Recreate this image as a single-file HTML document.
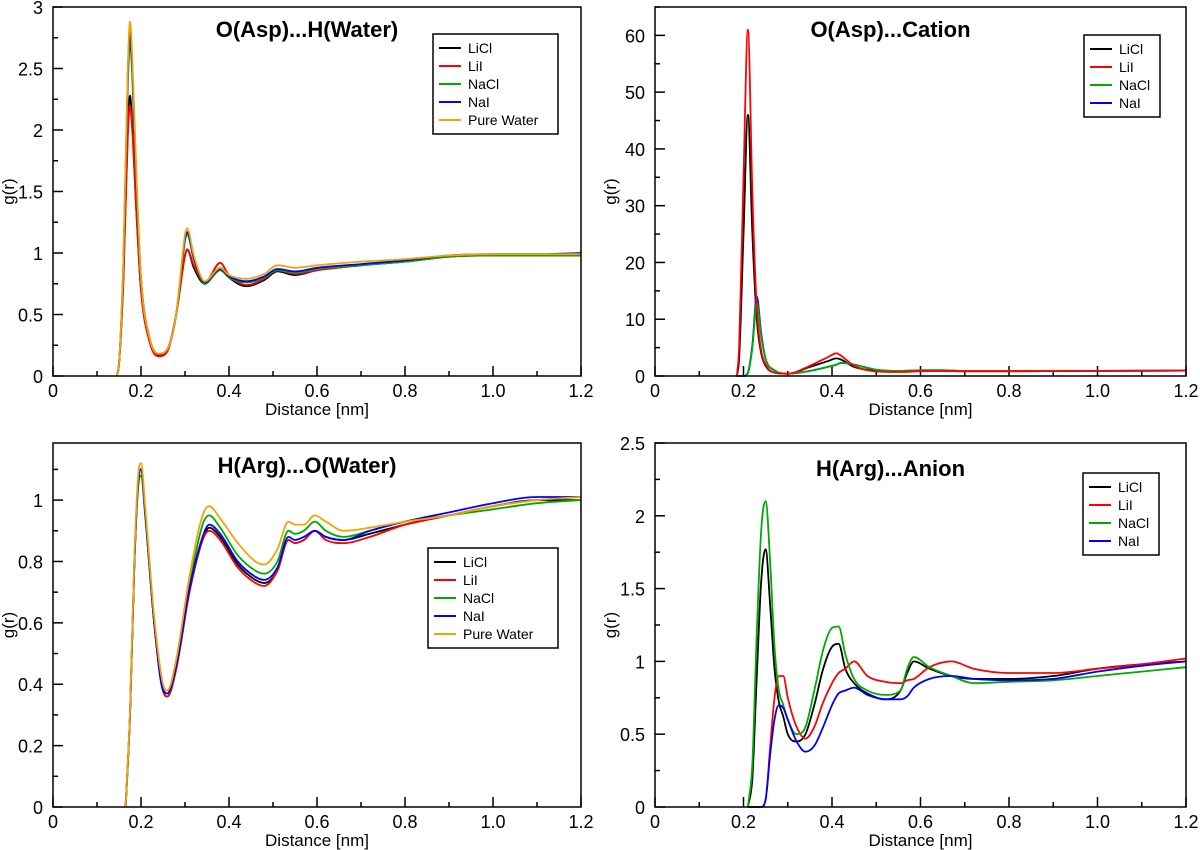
<!DOCTYPE html>
<html><head><meta charset="utf-8"><style>
body{margin:0;background:#fff;}
svg{display:block;font-family:"Liberation Sans",sans-serif;}
</style></head><body>
<svg id="fig" width="1200" height="850" viewBox="0 0 1200 850"></svg>
<script>
// ---------- Panel A: O(Asp)...H(Water)
const xA = [0.145,0.15,0.16,0.17,0.175,0.18,0.19,0.20,0.22,0.24,0.26,0.28,0.30,0.305,0.32,0.345,0.38,0.40,0.44,0.48,0.51,0.55,0.6,0.7,0.8,0.9,1.0,1.1,1.2];
const yA_LiCl = [0,0.1,0.8,2.0,2.28,2.05,1.3,0.7,0.28,0.17,0.21,0.5,0.98,1.03,0.88,0.75,0.88,0.8,0.73,0.78,0.85,0.82,0.86,0.9,0.93,0.97,0.98,0.98,0.98];
const yA_LiI = [0,0.1,0.78,1.95,2.2,2.0,1.3,0.7,0.27,0.16,0.2,0.5,0.98,1.03,0.9,0.76,0.92,0.82,0.74,0.79,0.86,0.83,0.86,0.9,0.93,0.97,0.98,0.98,0.98];
const yA_NaCl = [0,0.1,0.9,2.35,2.72,2.45,1.5,0.78,0.3,0.18,0.22,0.5,1.1,1.15,0.95,0.75,0.86,0.8,0.76,0.8,0.86,0.84,0.87,0.9,0.93,0.97,0.98,0.98,0.98];
const yA_NaI = [0,0.1,0.92,2.45,2.8,2.52,1.55,0.8,0.3,0.18,0.22,0.5,1.12,1.17,0.96,0.76,0.87,0.81,0.77,0.81,0.87,0.85,0.88,0.91,0.94,0.98,0.99,0.99,1.0];
const yA_Pure = [0,0.1,0.95,2.5,2.88,2.6,1.6,0.8,0.3,0.18,0.22,0.5,1.15,1.2,0.98,0.77,0.88,0.82,0.79,0.83,0.9,0.88,0.9,0.93,0.95,0.98,0.99,0.99,0.99];

// ---------- Panel B: O(Asp)...Cation
const xB = [0.185,0.19,0.20,0.21,0.22,0.23,0.24,0.25,0.27,0.30,0.35,0.39,0.41,0.42,0.45,0.5,0.55,0.6,0.65,0.7,0.8,1.0,1.2];
const yB_LiCl = [0,3,25,46,25,10,4,1.8,0.6,0.4,1.6,2.6,3.1,2.9,1.6,0.9,0.8,0.9,0.9,0.85,0.85,0.9,0.95];
const yB_LiI = [0,5,35,61,32,12,4.5,2,0.6,0.4,1.8,3.3,4.0,3.6,1.8,0.8,0.7,0.85,0.9,0.85,0.85,0.9,0.95];
const yB_NaCl = [0,0,0,0.5,5,13,7,3,1,0.4,0.9,1.6,2.0,2.3,2.0,1.1,0.9,1.0,1.0,0.9,0.9,0.9,0.95];
const yB_NaI = [0,0,0,0.6,5.5,14,7.5,3,1,0.4,0.9,1.6,2.0,2.3,2.0,1.1,0.9,1.0,1.0,0.9,0.9,0.9,0.95];

// ---------- Panel C: H(Arg)...O(Water)
const xC = [0.165,0.175,0.185,0.195,0.2,0.21,0.23,0.25,0.26,0.28,0.31,0.34,0.355,0.38,0.42,0.46,0.48,0.51,0.535,0.55,0.57,0.595,0.62,0.66,0.72,0.8,0.9,1.0,1.1,1.2];
const yC_LiCl = [0,0.3,0.8,1.08,1.1,0.95,0.6,0.38,0.36,0.45,0.7,0.87,0.91,0.88,0.79,0.74,0.73,0.77,0.87,0.86,0.87,0.9,0.88,0.87,0.89,0.92,0.95,0.98,1.0,1.0];
const yC_LiI = [0,0.3,0.8,1.08,1.1,0.95,0.6,0.38,0.36,0.45,0.7,0.87,0.9,0.87,0.78,0.73,0.72,0.77,0.87,0.86,0.87,0.9,0.87,0.86,0.88,0.92,0.95,0.98,1.0,1.01];
const yC_NaCl = [0,0.3,0.8,1.06,1.08,0.94,0.6,0.39,0.37,0.46,0.72,0.92,0.95,0.91,0.82,0.77,0.76,0.8,0.9,0.89,0.9,0.93,0.9,0.88,0.9,0.93,0.95,0.97,0.99,1.0];
const yC_NaI = [0,0.3,0.8,1.08,1.1,0.95,0.6,0.38,0.37,0.46,0.71,0.88,0.92,0.89,0.8,0.75,0.74,0.78,0.88,0.87,0.88,0.9,0.88,0.87,0.9,0.93,0.96,0.99,1.01,1.01];
const yC_Pure = [0,0.31,0.82,1.1,1.12,0.97,0.62,0.4,0.38,0.48,0.75,0.95,0.98,0.94,0.86,0.8,0.79,0.84,0.93,0.92,0.92,0.95,0.93,0.9,0.91,0.93,0.95,0.98,1.0,1.01];

// ---------- Panel D: H(Arg)...Anion
const xD = [0.21,0.22,0.23,0.24,0.25,0.26,0.27,0.28,0.29,0.30,0.32,0.34,0.36,0.38,0.40,0.415,0.43,0.45,0.48,0.52,0.555,0.57,0.585,0.62,0.67,0.72,0.8,0.9,1.0,1.1,1.2];
const yD_LiCl = [0,0.2,0.9,1.55,1.77,1.4,0.95,0.72,0.62,0.5,0.45,0.5,0.7,0.95,1.1,1.12,0.95,0.85,0.78,0.74,0.8,0.92,1.0,0.95,0.9,0.88,0.88,0.9,0.95,0.98,1.0];
const yD_LiI = [0,0,0,0,0.05,0.4,0.75,0.9,0.9,0.75,0.55,0.47,0.55,0.72,0.85,0.92,0.95,1.0,0.9,0.86,0.85,0.87,0.88,0.96,1.0,0.95,0.92,0.92,0.95,0.98,1.02];
const yD_NaCl = [0,0.3,1.2,1.9,2.1,1.7,1.1,0.8,0.7,0.6,0.5,0.55,0.8,1.08,1.23,1.24,1.05,0.88,0.8,0.77,0.8,0.95,1.03,0.96,0.9,0.85,0.86,0.87,0.9,0.93,0.96];
const yD_NaI = [0,0,0,0,0.05,0.35,0.6,0.7,0.68,0.6,0.45,0.38,0.42,0.55,0.7,0.78,0.8,0.82,0.77,0.74,0.74,0.76,0.82,0.88,0.9,0.88,0.87,0.88,0.93,0.97,1.0];

const NS="http://www.w3.org/2000/svg";
const svg=document.getElementById('fig');
function mk(tag,attrs,parent){const e=document.createElementNS(NS,tag);for(const k in attrs)e.setAttribute(k,attrs[k]);(parent||svg).appendChild(e);return e;}
// monotone cubic (Fritsch-Carlson) path
function smooth(p){const n=p.length,d=[],m=new Array(n);
 for(let i=0;i<n-1;i++)d.push((p[i+1][1]-p[i][1])/(p[i+1][0]-p[i][0]));
 m[0]=d[0];m[n-1]=d[n-2];
 for(let i=1;i<n-1;i++){m[i]=(d[i-1]*d[i]<=0)?0:(d[i-1]+d[i])/2;}
 for(let i=0;i<n-1;i++){if(d[i]===0){m[i]=0;m[i+1]=0;continue;}
  const a=m[i]/d[i],b=m[i+1]/d[i],s=a*a+b*b;if(s>9){const t=3/Math.sqrt(s);m[i]=t*a*d[i];m[i+1]=t*b*d[i];}}
 let s='M'+p[0][0].toFixed(1)+','+p[0][1].toFixed(1);
 for(let i=0;i<n-1;i++){const h=(p[i+1][0]-p[i][0])/3;
  s+='C'+(p[i][0]+h).toFixed(1)+','+(p[i][1]+m[i]*h).toFixed(1)+' '+(p[i+1][0]-h).toFixed(1)+','+(p[i+1][1]-m[i+1]*h).toFixed(1)+' '+p[i+1][0].toFixed(1)+','+p[i+1][1].toFixed(1);}
 return s;}

function panel(cfg){
 const g=mk('g',{});
 
 
 const L=cfg.L,R=cfg.R,T=cfg.T,B=cfg.B;
 const sx=v=>L+(v-0)/1.2*(R-L), sy=v=>B-v/cfg.ymax*(B-T);
 for(let i=0;i<=12;i++){const v=i*0.1,x=sx(v),len=i%2==0?10:5;
  mk('line',{x1:x,y1:B,x2:x,y2:B-len,stroke:'#000','stroke-width':1.5},g);
  if(i%2==0){const t=mk('text',{x:x,y:B+21,'font-size':18,'text-anchor':'middle'},g);t.textContent=cfg.xl[i/2];
   }}
 for(let k=0;k*cfg.minor<=cfg.ymax+1e-9;k++){const v=k*cfg.minor,y=sy(v),maj=k%2==0;
  mk('line',{x1:L,y1:y,x2:L+(maj?10:5),y2:y,stroke:'#000','stroke-width':1.5},g);
  if(maj){const t=mk('text',{x:L-10,y:y+7,'font-size':18,'text-anchor':'end'},g);t.textContent=cfg.yfmt(v);
   }}
 const order=cfg.order||cfg.series.map((_,i)=>i);
 order.forEach(j=>{const s=cfg.series[j];
  const pts=s.y.map((v,i)=>[sx(cfg.x[i]),sy(v)]);
  const p=mk('path',{d:smooth(pts),fill:'none',stroke:s.c,'stroke-width':1.8,'stroke-linejoin':'round'},g);
  
  
 });
 const fr=mk('rect',{x:L,y:T,width:R-L,height:B-T,fill:'none',stroke:'#000','stroke-width':1.5},g);
 
 const ti=mk('text',{x:(L+R)/2+cfg.tdx,y:T+cfg.tdy,'font-size':22,'font-weight':'bold','text-anchor':'middle'},g);ti.textContent=cfg.title;
 
 const xt=mk('text',{x:(L+R)/2,y:B+39,'font-size':17,'text-anchor':'middle'},g);xt.textContent='Distance [nm]';
 
 const yc=(T+B)/2;
 const yt=mk('text',{x:cfg.ylx,y:yc,'font-size':17,'text-anchor':'middle',transform:'rotate(-90 '+cfg.ylx+' '+yc+')'},g);yt.textContent='g(r)';
 
 const lg=mk('g',{},g);
 
 const lx=cfg.lx,ly=cfg.ly,lw=cfg.lw,lh=10+cfg.series.length*18;
 mk('rect',{x:lx,y:ly,width:lw,height:lh,fill:'#fff',stroke:'#000','stroke-width':1.5},lg);
 cfg.series.forEach((s,i)=>{const yy=ly+14+i*18;
  const e=mk('g',{},lg);
  
  mk('line',{x1:lx+6,y1:yy,x2:lx+28,y2:yy,stroke:s.c,'stroke-width':2},e);
  const t=mk('text',{x:lx+35,y:yy+5,'font-size':14},e);t.textContent=s.n;});
}
const xl1=['0','0.2','0.4','0.6','0.8','1.0','1.2'];
const C={k:'#000',r:'#f00',g:'#0a0',b:'#00f',o:'#f5a300'};
panel({name:'panel-oasp-hwater',L:53,R:581,T:7,B:376,ymax:3,minor:0.25,yfmt:v=>String(v),xl:xl1,x:xA,title:'O(Asp)...H(Water)',tdx:-10,tdy:30,ylx:14,lx:433,ly:34,lw:125,
 series:[{n:'LiCl',c:C.k,y:yA_LiCl},{n:'LiI',c:C.r,y:yA_LiI},{n:'NaCl',c:C.g,y:yA_NaCl},{n:'NaI',c:C.b,y:yA_NaI},{n:'Pure Water',c:C.o,y:yA_Pure}]});
panel({name:'panel-oasp-cation',L:655,R:1186,T:7,B:376,ymax:65,minor:5,yfmt:v=>String(v),xl:xl1,x:xB,title:'O(Asp)...Cation',tdx:-30,tdy:30,ylx:616,lx:1084,ly:35,lw:76,order:[0,3,2,1],
 series:[{n:'LiCl',c:C.k,y:yB_LiCl},{n:'LiI',c:C.r,y:yB_LiI},{n:'NaCl',c:C.g,y:yB_NaCl},{n:'NaI',c:C.b,y:yB_NaI}]});
panel({name:'panel-harg-owater',L:53,R:581,T:443,B:807,ymax:1.186,minor:0.1,yfmt:v=>String(Math.round(v*10)/10),xl:xl1,x:xC,title:'H(Arg)...O(Water)',tdx:-10,tdy:30,ylx:14,lx:428,ly:548,lw:130,
 series:[{n:'LiCl',c:C.k,y:yC_LiCl},{n:'LiI',c:C.r,y:yC_LiI},{n:'NaCl',c:C.g,y:yC_NaCl},{n:'NaI',c:C.b,y:yC_NaI},{n:'Pure Water',c:C.o,y:yC_Pure}]});
panel({name:'panel-harg-anion',L:655,R:1186,T:443,B:807,ymax:2.5,minor:0.25,yfmt:v=>String(v),xl:xl1,x:xD,title:'H(Arg)...Anion',tdx:-30,tdy:33,ylx:616,lx:1083,ly:473,lw:76,
 series:[{n:'LiCl',c:C.k,y:yD_LiCl},{n:'LiI',c:C.r,y:yD_LiI},{n:'NaCl',c:C.g,y:yD_NaCl},{n:'NaI',c:C.b,y:yD_NaI}]});
</script>
</body></html>
